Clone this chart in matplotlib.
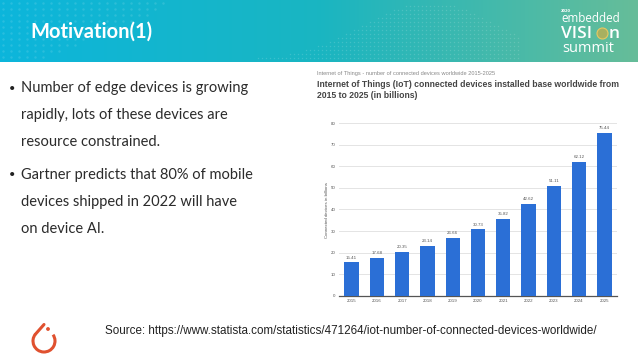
import numpy as np
import matplotlib
matplotlib.use('Agg')
import matplotlib.pyplot as plt
from matplotlib.patches import Arc, Circle

years = ['2015', '2016', '2017', '2018', '2019', '2020', '2021', '2022', '2023', '2024', '2025']
values = [15.41, 17.68, 20.35, 23.14, 26.66, 30.73, 35.82, 42.62, 51.11, 62.12, 75.44]
y_ticks = [0, 10, 20, 30, 40, 50, 60, 70, 80]
bullets = [
    ['Number of edge devices is growing', 'rapidly, lots of these devices are', 'resource constrained.'],
    ['Gartner predicts that 80% of mobile', 'devices shipped in 2022 will have', 'on device AI.'],
]
W, H = 638, 359
fig = plt.figure(figsize=(W / 100, H / 100), dpi=100, facecolor='white')

bg = fig.add_axes([0, 0, 1, 1])
bg.axis('off')

# header gradient band
left = np.array([0.05, 0.71, 0.86])
mid = np.array([0.10, 0.71, 0.76])
right = np.array([0.40, 0.74, 0.60])
t = np.linspace(0, 1, 320)[None, :, None]
grad = np.where(t < 0.5, left + (mid - left) * t * 2, mid + (right - mid) * (t - 0.5) * 2)
bg.imshow(grad, extent=[0, W, 62, 0], aspect='auto', zorder=0)
bg.set_xlim(0, W)
bg.set_ylim(H, 0)

# halftone texture in header
gx, gy = np.meshgrid(np.arange(2, W, 4), np.arange(2, 62, 4))
ridge = 60 - 58 * np.exp(-((gx - 430) / 95.0) ** 2)
mask1 = (gy > ridge) & (gx > 170) & (gx < 520)
bg.scatter(gx[mask1], gy[mask1], s=1.0, c='white', alpha=0.15, linewidths=0, zorder=1)
lx, ly = np.meshgrid(np.arange(3, 170, 8), np.arange(3, 62, 6))
mask2 = (ly < 60 - 0.42 * (lx - 40)) | (lx < 40)
bg.scatter(lx[mask2], ly[mask2], s=3.0, c='white', alpha=0.12, linewidths=0, zorder=1)

bg.text(30, 31.5, 'Motivation(1)', color='white', fontsize=14.5, fontweight='bold',
        family='Lato', va='center', ha='left', zorder=3)

# summit logo
bg.text(561, 11.5, '2020', color='white', fontsize=3.2, fontweight='bold', family='Open Sans', va='center')
bg.text(561, 19, 'embedded', color='white', fontsize=8.4, family='Open Sans', va='center')
bg.text(561, 33.5, 'VISI', color='white', fontsize=12.5, family='Open Sans', va='center', fontweight='semibold')
bg.add_patch(Circle((602.5, 33.5), 5.5, fc='#a8b060', ec='#e8c860', lw=0.8, zorder=3))
bg.text(609, 33.5, 'n', color='white', fontsize=12.5, family='Open Sans', va='center', fontweight='semibold')
bg.text(562, 48, 'summit', color='white', fontsize=10.5, family='Open Sans', va='center')

# bullets
ys = [[88, 115, 142], [175, 202, 229]]
for lines, yy in zip(bullets, ys):
    bg.text(9, yy[0], '•', fontsize=8, family='Lato', color='#222222', va='center')
    for line, y in zip(lines, yy):
        bg.text(21, y, line, fontsize=10.5, family='Lato', color='#2b2b2b', va='center')

# PyTorch-like logo
bg.add_patch(Arc((44, 341), 22, 22, theta1=-35, theta2=220, color='#e0512f', lw=2.2))
bg.plot([35.6, 44], [334, 324.5], color='#e0512f', lw=2.2, solid_capstyle='round')
bg.add_patch(Circle((48, 329), 1.2, color='#e0512f'))

# source
bg.text(105, 331, 'Source: https://www.statista.com/statistics/471264/iot-number-of-connected-devices-worldwide/',
        fontsize=8.38, family='Liberation Sans', color='#222222', va='center')

# embedded chart heading
bg.text(317, 73, 'Internet of Things - number of connected devices worldwide 2015-2025',
        fontsize=4.07, family='Liberation Sans', color='#888888', va='center')
bg.text(317, 84.5, 'Internet of Things (IoT) connected devices installed base worldwide from',
        fontsize=6.2, fontweight='bold', family='Liberation Sans', color='#444444', va='center')
bg.text(317, 96, '2015 to 2025 (in billions)',
        fontsize=6.2, fontweight='bold', family='Liberation Sans', color='#444444', va='center')

# the chart
ax = fig.add_axes([339 / W, 1 - 295.7 / H, (617 - 339) / W, 172.4 / H])
ax.patch.set_alpha(0)
x = np.arange(len(years))
ax.bar(x, values, width=0.565, color='#2b6fd6', zorder=3)
for xi, v in zip(x, values):
    ax.annotate(f'{v:.2f}', (xi, v), xytext=(0, 2), textcoords='offset points', ha='center', va='bottom',
                fontsize=3.2, color='#555555', family='Liberation Sans')
ax.set_xlim(-0.5, 10.5)
ax.set_ylim(0, 80)
ax.set_xticks(x, years)
ax.set_yticks(y_ticks)
ax.grid(axis='y', color='#e4e4e4', lw=0.7, zorder=0)
ax.tick_params(axis='both', length=0, labelsize=3.2, labelcolor='#555555', pad=2.5)
for lab in ax.get_xticklabels() + ax.get_yticklabels():
    lab.set_family('Liberation Sans')
for s in ['top', 'right', 'left']:
    ax.spines[s].set_visible(False)
ax.spines['bottom'].set_color('#555555')
ax.spines['bottom'].set_linewidth(0.9)
ax.set_ylabel('Connected devices in billions', fontsize=3.2, color='#555555', family='Liberation Sans', labelpad=1.5)

fig.savefig('out.png', dpi=100)
